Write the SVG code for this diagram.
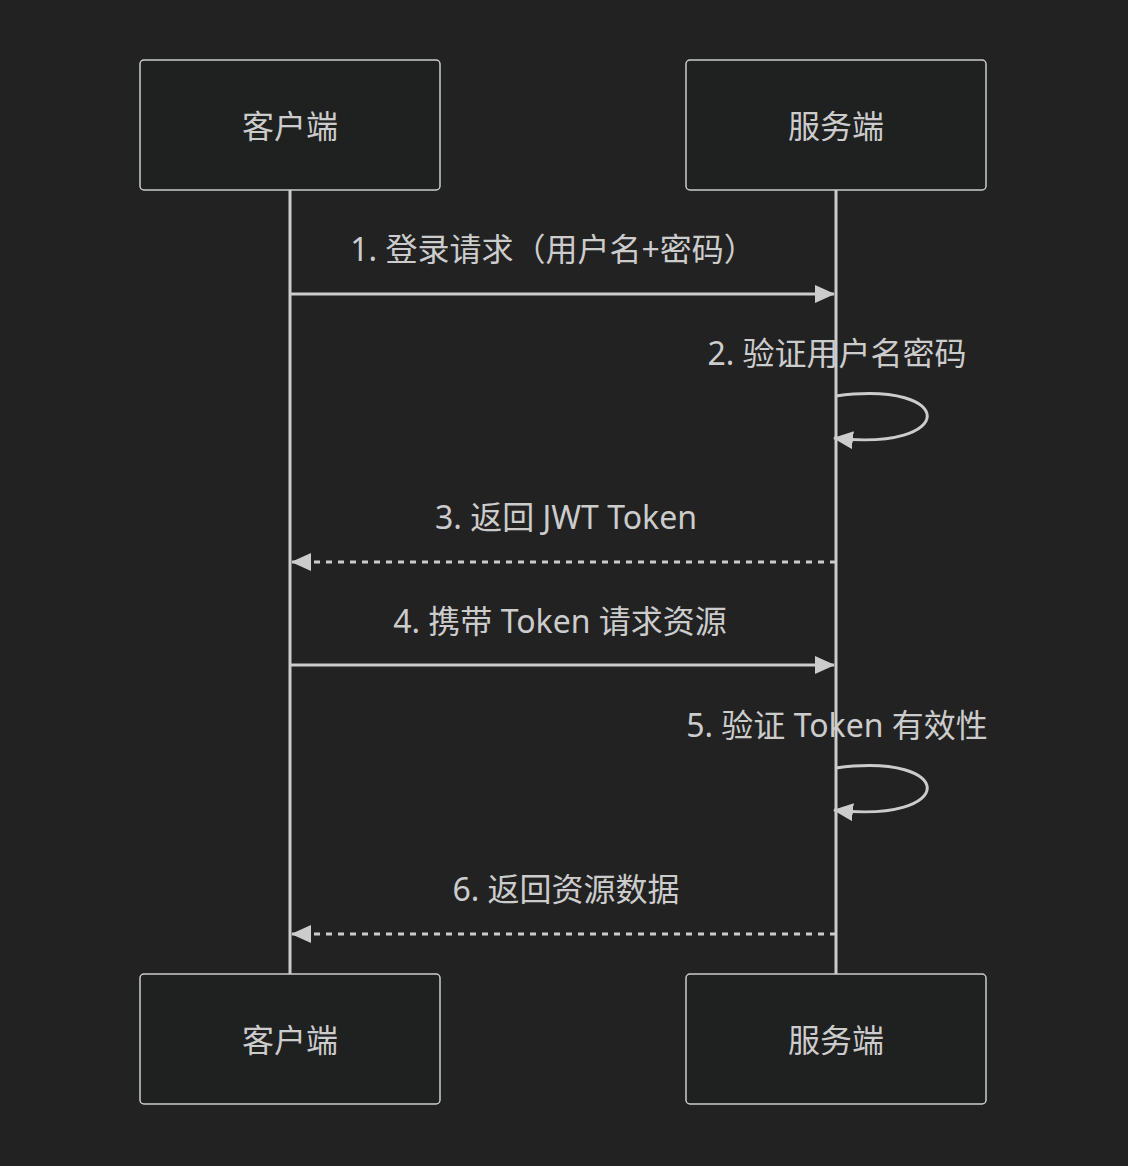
<svg xmlns="http://www.w3.org/2000/svg" width="1128" height="1166" viewBox="0 0 1128 1166">
<style>
.box{fill:#1f2020;stroke:#cccccc;stroke-width:1.5}
.t{font-family:"Noto Sans","Noto Sans CJK SC",sans-serif;font-size:32px;fill:#cccccc;text-anchor:middle;dominant-baseline:central}
.life{stroke:#cccccc;stroke-width:3}
.msg{stroke:#cccccc;stroke-width:3;fill:none}
.dash{stroke-dasharray:6,6}
</style>
<defs>
<marker id="ah" viewBox="0 0 20 18" refX="19" refY="9" markerWidth="20" markerHeight="18" markerUnits="userSpaceOnUse" orient="auto"><path d="M0,0L20,9L0,18z" fill="#cccccc"/></marker>
</defs>
<rect width="1128" height="1166" fill="#222222"/>
<g id="lifelines">
<line class="life" x1="290" y1="190" x2="290" y2="974"/>
<line class="life" x1="836" y1="190" x2="836" y2="974"/>
</g>
<g id="client-top"><rect class="box" x="140" y="60" width="300" height="130" rx="4"/><text class="t" x="290" y="125">客户端</text></g>
<g id="server-top"><rect class="box" x="686" y="60" width="300" height="130" rx="4"/><text class="t" x="836" y="125">服务端</text></g>
<g id="client-bottom"><rect class="box" x="140" y="974" width="300" height="130" rx="4"/><text class="t" x="290" y="1039">客户端</text></g>
<g id="server-bottom"><rect class="box" x="686" y="974" width="300" height="130" rx="4"/><text class="t" x="836" y="1039">服务端</text></g>
<g id="connectors">
<line class="msg" x1="290" y1="294" x2="834" y2="294" marker-end="url(#ah)"/>
<path class="msg" d="M836,396C958,380 958,452 834,438" marker-end="url(#ah)"/>
<line class="msg dash" x1="836" y1="562" x2="292" y2="562" marker-end="url(#ah)"/>
<line class="msg" x1="290" y1="665" x2="834" y2="665" marker-end="url(#ah)"/>
<path class="msg" d="M836,768C958,752 958,824 834,810" marker-end="url(#ah)"/>
<line class="msg dash" x1="836" y1="934" x2="292" y2="934" marker-end="url(#ah)"/>
</g>
<g id="labels">
<text class="t" x="553" y="248">1. 登录请求（用户名+密码）</text>
<text class="t" x="837" y="352">2. 验证用户名密码</text>
<text class="t" x="566" y="516">3. 返回 JWT Token</text>
<text class="t" x="560" y="620">4. 携带 Token 请求资源</text>
<text class="t" x="837" y="724">5. 验证 Token 有效性</text>
<text class="t" x="566" y="888">6. 返回资源数据</text>
</g>
</svg>
